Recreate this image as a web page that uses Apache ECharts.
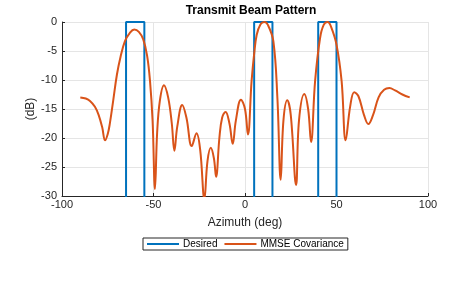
<!DOCTYPE html>
<html>
<head>
<meta charset="utf-8">
<title>Transmit Beam Pattern</title>
<script src="https://cdn.jsdelivr.net/npm/echarts@6/dist/echarts.min.js"></script>
<style>
  html, body { margin: 0; padding: 0; background: #fff; }
  #chart { width: 474px; height: 285px; }
</style>
</head>
<body>
<div id="chart"></div>
<script>
// desired pattern (0 dB inside the beams, far below the axis outside)
var desiredAz = [-90, -65, -65, -55, -55, 5, 5, 15, 15, 40, 40, 50, 50, 90];
var desiredDb = [-100, -100, 0, 0, -100, -100, 0, 0, -100, -100, 0, 0, -100, -100];

// MMSE covariance beam pattern
var mmseAz = [-90, -87, -84.7, -82, -80, -78, -76.5, -75, -73.8, -72, -70, -68, -65.6, -63, -60.5, -58, -55.6,
  -53.5, -51.9, -50.5, -49.2, -48, -46.5, -44.3, -42, -40, -38.6, -37, -34.3, -32, -29.1, -26.5, -24.5,
  -22.2, -20.5, -18.7, -17, -15.8, -14, -12.5, -10.6, -8.5, -6.7, -5, -2.2, 0, 1.6, 3.6, 5, 6.4, 8.5,
  10.5, 12.5, 15.5, 17.7, 19.5, 21, 23.1, 25, 27.9, 29.5, 32.4, 34.5, 36.1, 38.3, 41, 43, 45.2, 47, 50,
  52.8, 55, 57.5, 59.7, 62, 65, 67.4, 70, 73, 76, 78.9, 82, 86, 90];
var mmseDb = [-13, -13.2, -13.6, -14.6, -16, -18.2, -20.4, -19.3, -17.4, -13.5, -9.1, -6, -3.3, -1.9, -1.3, -1.7, -3.0,
  -5.8, -10.2, -17, -28.8, -19, -13.5, -10.9, -13, -17.5, -22.2, -18, -14.3, -16.5, -21.4, -19.2, -22,
  -30.5, -24, -21.7, -23.5, -26.7, -20, -16.5, -15.5, -17.5, -21.0, -17, -13.4, -15, -19.4, -10.2, -5.5, -2.2, -0.4,
  0, -0.5, -3.3, -13.1, -27.2, -17, -13.5, -16, -28.1, -17, -12.4, -15, -20.7, -10.2, -2.8, -0.5, 0, -0.8, -3.9,
  -10.2, -20.4, -14.5, -12.1, -12.8, -16, -17.6, -16, -13, -11.7, -11.4, -11.8, -12.5, -13];

var xTicks = [-100, -50, 0, 50, 100];
var yTicks = [-30, -25, -20, -15, -10, -5, 0];

var pairs = function (xs, ys) {
  return xs.map(function (x, i) { return [x, ys[i]]; });
};

var font = 'Liberation Sans, Arial, Helvetica, sans-serif';
var myChart = echarts.init(document.getElementById('chart'));

myChart.setOption({
  animation: false,
  title: {
    text: 'Transmit Beam Pattern',
    left: 246, top: 0, textAlign: 'center',
    textStyle: { fontFamily: font, fontSize: 12, fontWeight: 'bold', color: '#000' }
  },
  legend: {
    data: ['Desired', 'MMSE Covariance'],
    left: 143, top: 238,
    itemWidth: 32, itemHeight: 2, itemGap: 7,
    icon: 'rect',
    borderColor: '#262626', borderWidth: 1,
    padding: [1, 4, 1, 4],
    textStyle: { fontFamily: font, fontSize: 10, color: '#000', padding: [0, 0, 0, -1] }
  },
  grid: { left: 62, right: 46, top: 22, bottom: 89 },
  xAxis: {
    type: 'value',
    min: xTicks[0], max: xTicks[xTicks.length - 1], interval: 50,
    name: 'Azimuth (deg)', nameLocation: 'middle', nameGap: 21,
    nameTextStyle: { fontFamily: font, fontSize: 12, color: '#262626' },
    axisLine: { onZero: false, lineStyle: { color: '#262626', width: 1 } },
    axisTick: { inside: true, length: 3, lineStyle: { color: '#262626' } },
    axisLabel: { fontFamily: font, fontSize: 11, color: '#262626', margin: 3 },
    splitLine: { lineStyle: { color: '#e5e5e5' } }
  },
  yAxis: {
    type: 'value',
    min: yTicks[0], max: yTicks[yTicks.length - 1], interval: 5,
    name: '(dB)', nameLocation: 'middle', nameGap: 25, nameRotate: 90,
    nameMoveOverlap: false,
    nameTextStyle: { fontFamily: font, fontSize: 12, color: '#262626' },
    axisLine: { show: true, onZero: false, lineStyle: { color: '#262626', width: 1 } },
    axisTick: { show: true, inside: true, length: 3, lineStyle: { color: '#262626' } },
    axisLabel: { fontFamily: font, fontSize: 11, color: '#262626', margin: 5 },
    splitLine: { lineStyle: { color: '#e5e5e5' } }
  },
  series: [{
    name: 'Desired',
    type: 'line',
    data: pairs(desiredAz, desiredDb),
    showSymbol: false,
    clip: true,
    color: '#0072BD',
    lineStyle: { width: 2, color: '#0072BD' }
  }, {
    name: 'MMSE Covariance',
    type: 'line',
    data: pairs(mmseAz, mmseDb),
    smooth: 0.4,
    showSymbol: false,
    clip: true,
    color: '#D95319',
    lineStyle: { width: 2, color: '#D95319' }
  }]
});
</script>
</body>
</html>
